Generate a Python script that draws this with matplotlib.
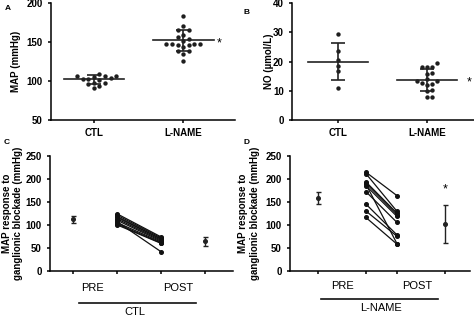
import numpy as np
import matplotlib.pyplot as plt
from matplotlib.lines import Line2D

plt.rcParams['font.family'] = ['Liberation Sans', 'DejaVu Sans']
plt.rcParams['font.size'] = 7
plt.rcParams['axes.linewidth'] = 1.1
plt.rcParams['xtick.major.width'] = 1.1
plt.rcParams['ytick.major.width'] = 1.1
plt.rcParams['xtick.major.size'] = 2.5
plt.rcParams['ytick.major.size'] = 2.5

# A: mean arterial pressure (mmHg)
groups = ["CTL", "L-NAME"]
map_ctl = [106, 105, 104, 101, 96, 98, 91, 93, 98, 103, 109, 103, 106, 106]
map_lname = [183, 170, 165, 165, 159, 154, 156, 151, 147, 147, 146, 146,
             147, 148, 143, 139, 139, 134, 126]
map_mean = [102, 152]
map_sd = [6, 14]

# B: plasma NO (umol/L)
no_ctl = [29.3, 23.7, 20.5, 18.6, 16.8, 10.9]
no_lname = [19.6, 18.2, 18.0, 18.1, 15.8, 15.9, 13.4, 13.2, 12.8, 14.0,
            12.3, 12.0, 9.9, 10.3, 8.0, 8.0]
no_mean = [20.0, 13.8]
no_sd = [6.2, 3.8]

# C: ganglionic blockade, CTL rats
ctl_pre = [124, 121, 118, 116, 113, 110, 107, 105, 102, 100]
ctl_post = [74, 72, 70, 69, 67, 65, 42, 63, 61, 60]
ctl_mean = [112, 64]
ctl_sd = [8, 9]

# D: ganglionic blockade, L-NAME rats
lname_pre = [214, 211, 193, 190, 188, 185, 172, 145, 130, 116]
lname_post = [163, 129, 125, 122, 59, 118, 105, 78, 75, 58]
lname_mean = [158, 102]
lname_sd = [12, 41]

W, H = 474, 323
fig = plt.figure(figsize=(W / 100, H / 100), dpi=100)


def px_axes(x0, y0, x1, y1):
    # axes box given in pixels from the top-left corner
    return fig.add_axes([x0 / W, 1 - y1 / H, (x1 - x0) / W, (y1 - y0) / H])


def style(ax):
    ax.spines['top'].set_visible(False)
    ax.spines['right'].set_visible(False)
    for lab in ax.get_yticklabels() + ax.get_xticklabels():
        lab.set_fontweight('bold')


def swarm(ax, x0, values, diam):
    # spread dots sideways so they don't overlap (pixel space)
    pts = ax.transData.transform([(x0, v) for v in values])
    order = np.argsort(values)
    placed = []
    xs = np.zeros(len(values))
    for i in order:
        px, py = pts[i]
        k = 0
        while True:
            step = (k + 1) // 2 * (1 if k % 2 else -1)
            cx = px + step * diam
            if all((cx - qx) ** 2 + (py - qy) ** 2 >= diam ** 2 * 0.95 for qx, qy in placed):
                break
            k += 1
        placed.append((cx, py))
        xs[i] = ax.transData.inverted().transform((cx, py))[0]
    return xs


def dot_panel(ax, data, means, sds, diam):
    for i, vals in enumerate(data):
        xs = swarm(ax, i, vals, diam)
        ax.scatter(xs, vals, s=10, color='#1e1e1e', zorder=3, linewidths=0)
        ax.plot([i - 0.34, i + 0.34], [means[i], means[i]], color='#222222', lw=1.2, zorder=4)
        ax.errorbar(i, means[i], yerr=sds[i], fmt='none', ecolor='#222222',
                    elinewidth=1.2, capsize=5, capthick=1.2, zorder=4)


# ---- A ----
axa = px_axes(51, 3, 235, 120)
axa.set_xlim(-0.48, 1.58)
axa.set_ylim(50, 200)
axa.set_yticks([50, 100, 150, 200])
axa.set_xticks([0, 1])
axa.set_xticklabels(groups, fontweight='bold')
dot_panel(axa, [map_ctl, map_lname], map_mean, map_sd, diam=5.6)
axa.set_ylabel("MAP (mmHg)", fontweight='bold', labelpad=4)
axa.annotate("*", (1.4, map_mean[1]), fontsize=9, ha='center', va='center',
             xytext=(0, -2), textcoords='offset points')
style(axa)

# ---- B ----
axb = px_axes(292, 3, 474, 120)
axb.set_xlim(-0.52, 1.53)
axb.set_ylim(0, 40)
axb.set_yticks([0, 10, 20, 30, 40])
axb.set_xticks([0, 1])
axb.set_xticklabels(groups, fontweight='bold')
dot_panel(axb, [no_ctl, no_lname], no_mean, no_sd, diam=5.0)
axb.set_ylabel("NO (\u00b5mol/L)", fontweight='bold', labelpad=-1)
axb.annotate("*", (1.48, no_mean[1]), fontsize=9, ha='center', va='center',
             xytext=(0, -2), textcoords='offset points')
style(axb)


def paired_panel(ax, pos, pre, post, means, sds, pad):
    for a, b in zip(pre, post):
        ax.plot([pos[1], pos[2]], [a, b], color='#111111', lw=0.9,
                marker='o', ms=2.6, zorder=3)
    ax.errorbar([pos[0], pos[3]], means, yerr=sds, fmt='o', ms=2.6, color='#222222',
                ecolor='#222222', elinewidth=1.0, capsize=1.8, capthick=1.0)
    ax.set_ylim(0, 250)
    ax.set_yticks([0, 50, 100, 150, 200, 250])
    ax.set_xticks(pos)
    ax.set_xticklabels([])
    ax.set_ylabel("MAP response to\nganglionic blockade (mmHg)",
                  fontweight='bold', labelpad=pad, linespacing=1.2)
    style(ax)


# ---- C ----
axc = px_axes(50, 155.5, 233, 271)
pos_c = [0, 1, 2, 3]
axc.set_xlim(-0.52, 3.64)
paired_panel(axc, pos_c, ctl_pre, ctl_post, ctl_mean, ctl_sd, pad=1.5)

# ---- D ----
axd = px_axes(290, 155.5, 470, 271)
pos_d = [0, 1, 1.65, 2.65]
axd.set_xlim(-0.58, 3.17)
paired_panel(axd, pos_d, lname_pre, lname_post, lname_mean, lname_sd, pad=4)
axd.text(pos_d[3], 176, "*", fontsize=9, ha='center', va='center')


def ftext(x, y, s, **kw):
    fig.text(x / W, 1 - y / H, s, ha='center', va='center', **kw)


def fline(x0, x1, y):
    fig.add_artist(Line2D([x0 / W, x1 / W], [1 - y / H, 1 - y / H],
                          color='#111111', lw=1.2))


# group labels under C and D
ftext(92, 288, "PRE", fontsize=8)
ftext(178, 288, "POST", fontsize=8)
fline(79, 196, 303)
ftext(135, 312, "CTL", fontsize=8)

ftext(342, 286, "PRE", fontsize=8)
ftext(417, 286, "POST", fontsize=8)
fline(321, 438, 299)
ftext(381, 308, "L-NAME", fontsize=8)

# panel letters
for letter, x, y in [("A", 8, 8), ("B", 247, 13), ("C", 7, 143), ("D", 247, 143)]:
    ftext(x, y, letter, fontsize=6, fontweight='bold')

fig.savefig("out.png", dpi=100)
